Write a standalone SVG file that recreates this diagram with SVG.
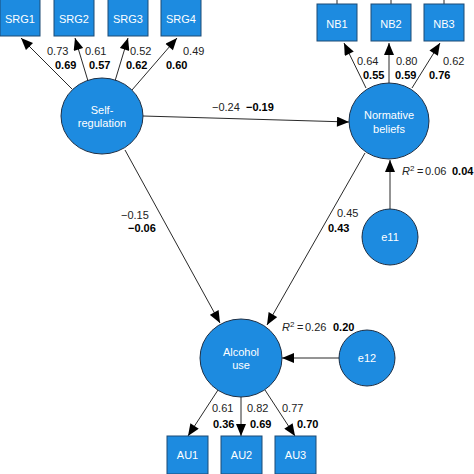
<svg xmlns="http://www.w3.org/2000/svg" width="474" height="474" viewBox="0 0 474 474">
<defs>
<marker id="ah" viewBox="0 0 12 10" refX="12" refY="5" markerWidth="13" markerHeight="10" markerUnits="userSpaceOnUse" orient="auto">
<path d="M0,0 L12,5 L0,10 Z" fill="#000"/>
</marker>
<style>
.box{fill:#1d8be0;stroke:#1c4a74;stroke-width:1}
.lat{fill:#1d8be0;stroke:#1d2f45;stroke-width:1}
.nt{font-family:"Liberation Sans",Arial,sans-serif;font-size:11px;fill:#fff;text-anchor:middle}
.lb{font-family:"Liberation Sans",Arial,sans-serif;font-size:11px;fill:#222}
.bd{font-weight:bold;fill:#000}
.cn{stroke:#111;stroke-width:0.9;fill:none;marker-end:url(#ah)}
.ln{stroke:#111;stroke-width:0.9;fill:none}
</style>
</defs>
<rect width="474" height="474" fill="#fff"/>
<g id="connectors">
<line class="cn" x1="72" y1="89" x2="21" y2="38"/>
<line class="cn" x1="88" y1="81" x2="75" y2="38"/>
<line class="cn" x1="115" y1="81" x2="128" y2="38"/>
<line class="cn" x1="132" y1="90" x2="177" y2="38"/>
<line class="cn" x1="366" y1="88" x2="344" y2="43"/>
<line class="cn" x1="389" y1="83" x2="389" y2="43"/>
<line class="cn" x1="412" y1="88" x2="440" y2="43"/>
<line class="ln" x1="337" y1="0" x2="337" y2="4"/>
<line class="ln" x1="391" y1="0" x2="391" y2="4"/>
<line class="ln" x1="444" y1="0" x2="444" y2="4"/>
<line class="cn" x1="143" y1="116" x2="349" y2="122"/>
<line class="cn" x1="125" y1="150" x2="220" y2="323"/>
<line class="cn" x1="365" y1="153" x2="267" y2="325"/>
<line class="cn" x1="390" y1="209" x2="390" y2="160"/>
<line class="cn" x1="339" y1="358" x2="282" y2="358"/>
<line class="cn" x1="218" y1="390" x2="188" y2="436"/>
<line class="cn" x1="241" y1="397" x2="241" y2="436"/>
<line class="cn" x1="265" y1="390" x2="295" y2="436"/>
</g>
<g id="labels">
<text class="lb" x="47" y="55">0.73</text>
<text class="lb bd" x="55" y="69">0.69</text>
<text class="lb" x="85" y="55">0.61</text>
<text class="lb bd" x="89" y="69">0.57</text>
<text class="lb" x="130" y="55">0.52</text>
<text class="lb bd" x="126" y="69">0.62</text>
<text class="lb" x="183" y="55">0.49</text>
<text class="lb bd" x="166" y="69">0.60</text>
<text class="lb" x="357" y="65">0.64</text>
<text class="lb bd" x="363" y="79">0.55</text>
<text class="lb" x="396" y="65">0.80</text>
<text class="lb bd" x="395" y="79">0.59</text>
<text class="lb" x="443" y="65">0.62</text>
<text class="lb bd" x="429" y="79">0.76</text>
<text class="lb" x="212" y="111">−0.24</text>
<text class="lb bd" x="246" y="111">−0.19</text>
<text class="lb" x="121" y="219">−0.15</text>
<text class="lb bd" x="128" y="232">−0.06</text>
<text class="lb" x="337" y="217">0.45</text>
<text class="lb bd" x="328" y="232">0.43</text>
<text class="lb" x="402" y="175"><tspan font-style="italic">R</tspan><tspan dy="-4" font-size="8">2</tspan><tspan dy="4" x="417">=</tspan><tspan x="425">0.06</tspan></text>
<text class="lb bd" x="452" y="175">0.04</text>
<text class="lb" x="282" y="331"><tspan font-style="italic">R</tspan><tspan dy="-4" font-size="8">2</tspan><tspan dy="4" x="297">=</tspan><tspan x="305">0.26</tspan></text>
<text class="lb bd" x="333" y="331">0.20</text>
<text class="lb" x="212" y="412">0.61</text>
<text class="lb bd" x="213" y="428">0.36</text>
<text class="lb" x="247" y="412">0.82</text>
<text class="lb bd" x="250" y="428">0.69</text>
<text class="lb" x="282" y="412">0.77</text>
<text class="lb bd" x="297" y="428">0.70</text>
</g>
<g id="SRG1"><rect class="box" x="0" y="-2" width="40" height="38"/><text class="nt" x="20" y="23">SRG1</text></g>
<g id="SRG2"><rect class="box" x="54" y="-2" width="40" height="38"/><text class="nt" x="74" y="23">SRG2</text></g>
<g id="SRG3"><rect class="box" x="108" y="-2" width="40" height="38"/><text class="nt" x="128" y="23">SRG3</text></g>
<g id="SRG4"><rect class="box" x="161" y="-2" width="40" height="38"/><text class="nt" x="181" y="23">SRG4</text></g>
<g id="NB1"><rect class="box" x="317" y="4" width="40" height="37"/><text class="nt" x="337" y="28">NB1</text></g>
<g id="NB2"><rect class="box" x="371" y="4" width="40" height="37"/><text class="nt" x="391" y="28">NB2</text></g>
<g id="NB3"><rect class="box" x="424" y="4" width="40" height="37"/><text class="nt" x="444" y="28">NB3</text></g>
<g id="AU1"><rect class="box" x="167" y="436" width="41" height="38"/><text class="nt" x="187.5" y="459">AU1</text></g>
<g id="AU2"><rect class="box" x="221" y="436" width="41" height="38"/><text class="nt" x="241.5" y="459">AU2</text></g>
<g id="AU3"><rect class="box" x="275" y="436" width="41" height="38"/><text class="nt" x="295.5" y="459">AU3</text></g>
<g id="self-regulation"><ellipse class="lat" cx="102" cy="116" rx="41" ry="38"/><text class="nt" x="102" y="114">Self-</text><text class="nt" x="102" y="127">regulation</text></g>
<g id="normative-beliefs"><ellipse class="lat" cx="389" cy="121" rx="40" ry="38"/><text class="nt" x="389" y="119">Normative</text><text class="nt" x="389" y="133">beliefs</text></g>
<g id="alcohol-use"><ellipse class="lat" cx="241" cy="358" rx="41" ry="39"/><text class="nt" x="241" y="356">Alcohol</text><text class="nt" x="241" y="369">use</text></g>
<g id="e11"><circle class="lat" cx="390" cy="237" r="28"/><text class="nt" x="390" y="241">e11</text></g>
<g id="e12"><circle class="lat" cx="367" cy="358" r="28"/><text class="nt" x="367" y="362">e12</text></g>
</svg>
